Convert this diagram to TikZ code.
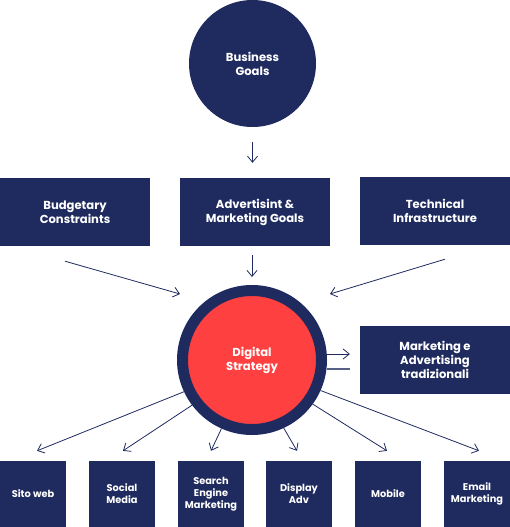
\documentclass[tikz,border=0pt]{standalone}
\usepackage{fontspec}
\setmainfont{Poppins}
\usetikzlibrary{arrows.meta}
\definecolor{navy}{RGB}{31,43,95}
\definecolor{redc}{RGB}{255,64,64}
\begin{document}
\begin{tikzpicture}[x=1pt,y=-1pt,
  txt/.style={text=white, align=center, font=\bfseries\fontsize{11.6}{14}\selectfont},
  box/.style={txt, fill=navy, inner sep=0pt, minimum width=150pt, minimum height=68pt},
  sbox/.style={fill=navy, text=white, align=center, font=\bfseries\fontsize{9.8}{12}\selectfont, inner sep=0pt, minimum width=66pt, minimum height=66pt},
  arr/.style={draw=navy, line width=0.8pt, -{Straight Barb[length=6pt,width=10pt]}},
]
\useasboundingbox (0,0) rectangle (510,527);
\node[txt, circle, fill=navy, minimum size=127pt, inner sep=0pt] (bg) at (252.5,63.5) {Business\\Goals};
\node[box] (b1) at (75,212) {Budgetary\\Constraints};
\node[box] (b2) at (255,212) {Advertisint \&\\Marketing Goals};
\node[box] (b3) at (435,211) {Technical\\Infrastructure};
\node[txt, circle, draw=navy, line width=11pt, fill=redc, minimum size=139pt, inner sep=0pt, outer sep=5.5pt] (ds) at (252,360) {Digital\\Strategy};
\node[box] (mk) at (435,360) {Marketing e\\Advertising\\tradizionali};
\node[sbox] (s1) at (33,494) {Sito web};
\node[sbox] (s2) at (122,494) {Social\\Media};
\node[sbox] (s3) at (211,494) {Search\\Engine\\Marketing};
\node[sbox] (s4) at (299,494) {Display\\Adv};
\node[sbox] (s5) at (388,494) {Mobile};
\node[sbox] (s6) at (477,494) {Email\\Marketing};

\draw[arr, shorten <=15pt, shorten >=15pt] (bg.south) -- (bg.south |- b2.north);
\draw[arr, shorten <=9pt, shorten >=8pt] (b2.south -| ds.north) -- (ds.north);
\draw[arr] ([xshift=-10pt,yshift=-15pt]b1.south) -- ([xshift=-72pt,yshift=-9pt]ds.north);
\draw[arr] ([xshift=10pt,yshift=-14pt]b3.south) -- ([xshift=78pt,yshift=-9pt]ds.north);
\draw[arr, shorten >=10pt] ([yshift=6pt]ds.east) -- ([yshift=6pt]mk.west);
\draw[draw=navy!75, line width=1.2pt, shorten >=10pt] ([yshift=-9pt]ds.east) -- ([yshift=-9pt]mk.west);
\draw[arr] (ds.205) -- ([xshift=4pt,yshift=10pt]s1.north);
\draw[arr] (ds.217) -- ([xshift=1pt,yshift=10pt]s2.north);
\draw[arr] (ds.246) -- ([yshift=10pt]s3.north);
\draw[arr] (ds.295) -- ([xshift=-2pt,yshift=10pt]s4.north);
\draw[arr] (ds.324) -- ([xshift=-1pt,yshift=10pt]s5.north);
\draw[arr] (ds.336) -- ([xshift=2pt,yshift=10pt]s6.north);
\end{tikzpicture}
\end{document}
